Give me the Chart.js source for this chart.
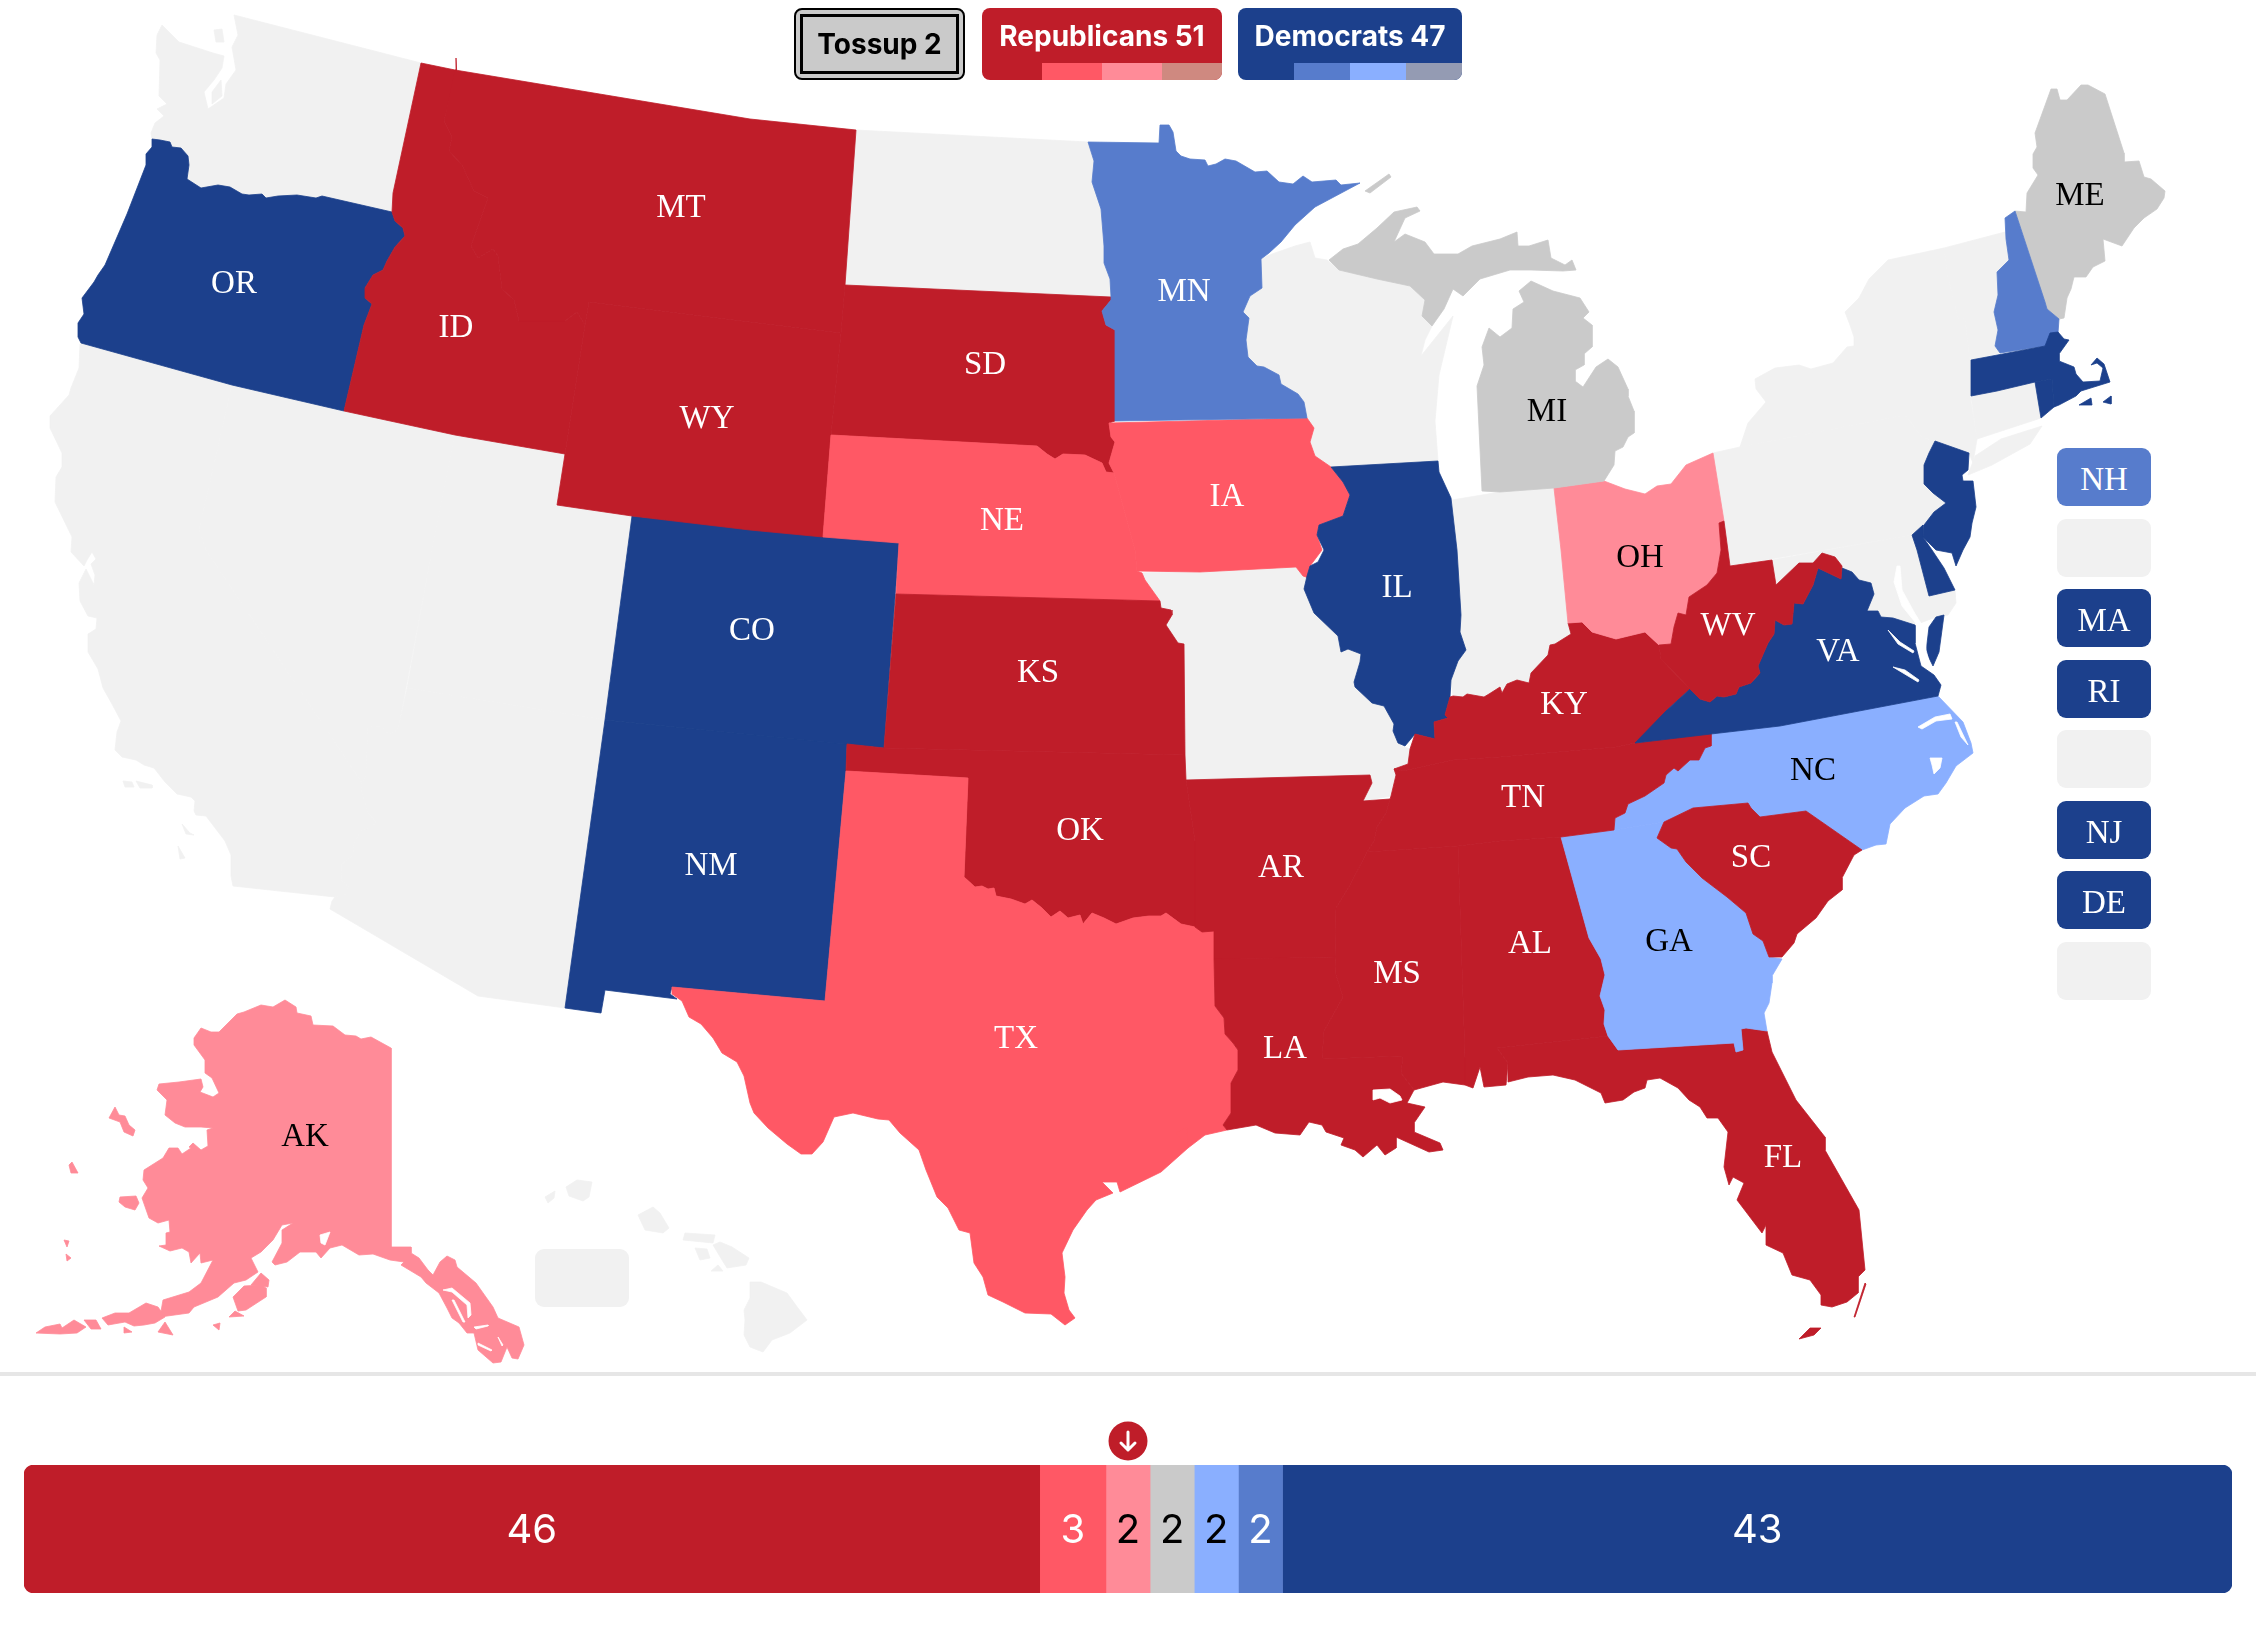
<!DOCTYPE html>
<html>
<head>
<meta charset="utf-8">
<script src="https://cdn.jsdelivr.net/npm/chart.js@4/dist/chart.umd.js"></script>
<style>
html, body { margin: 0; padding: 0; background: #fff; }
#page { position: relative; width: 2256px; height: 1638px; overflow: hidden; font-family: Inter, sans-serif; }
canvas { position: absolute; }
#map { left: 0; top: 0; }
#bar { left: 24px; top: 1417px; }
.rule { position: absolute; left: 0; top: 1372px; width: 2256px; height: 4px; background: #e6e6e6; }
.chip { position: absolute; width: 94px; height: 58px; border-radius: 9px; font: 33px/62px "Liberation Serif", serif; text-align: center; color: #fff; }
.head { position: absolute; top: 8px; height: 72px; border-radius: 8px; overflow: hidden; color: #fff; font-weight: 700; font-size: 28px; text-align: center; box-sizing: border-box; }
.head span { position: absolute; left: 0; right: 0; top: 10px; line-height: 36px; }
.strip { position: absolute; bottom: 0; height: 17px; }
#toss { left: 794px; width: 171px; background: #cacaca; color: #000; border: 2px solid #000; }
#toss i { position: absolute; inset: 4px; border: 3px solid #000; }
#toss span { top: 16px; }
</style>
</head>
<body>
<div id="page">
  <canvas id="map" width="2256" height="1638"></canvas>
  <div class="rule"></div>
  <canvas id="bar" width="2208" height="176"></canvas>
</div>
<script>
// ratings and their colours
const ratingNames = ['safeR', 'likelyR', 'leanR', 'tiltR', 'toss', 'tiltD', 'leanD', 'likelyD', 'safeD', 'none'];
const ratingColors = ['#bf1d29', '#ff5865', '#ff8b98', '#cf8980', '#cacaca', '#949bb3', '#8aafff', '#577ccc', '#1c408c', '#f1f1f1'];

const stateCodes = ['OR','MT','ID','WY','SD','MN','NE','IA','CO','NM','KS','OK','TX','AR','LA','MS','AL','FL','TN','KY','WV','SC','IL','MI','ME','NH','MA','RI','NJ','DE','VA','NC','GA','OH','AK'];
const stateRatings = ['safeD','safeR','safeR','safeR','safeR','likelyD','likelyR','likelyR','safeD','safeD','safeR','safeR','likelyR','safeR','safeR','safeR','safeR','safeR','safeR','safeR','safeR','safeR','safeD','toss','toss','likelyD','safeD','safeD','safeD','safeD','safeD','leanD','leanD','leanR','leanR'];
const labelX = [234,681,456,707,985,1184,1002,1227,752,711,1038,1080,1016,1281,1285,1397,1530,1783,1523,1564,1728,1751,1397,1547,2080,null,null,null,null,null,1838,1813,1669,1640,305];
const labelY = [284.5,208.5,328.5,419.5,365.5,292.5,521.5,497.5,631.5,866.5,673.5,831.5,1039.5,868.5,1049.5,974.5,944.5,1158.5,798.5,705.5,626.5,858.5,588.5,412.5,196.5,null,null,null,null,null,652.5,771.5,942.5,558.5,1137.5];
const darkLabels = ['MI','ME','NC','GA','OH','AK'];

// small states listed beside the map
const chipStates = ['NH','VT','MA','RI','CT','NJ','DE','MD'];
const hawaiiChip = 'HI';

// senate totals at the top
const headTotals = ['Tossup 2', 'Republicans 51', 'Democrats 47'];

// seats in the bottom bar
const seatCounts = [46, 3, 2, 2, 2, 2, 43];
const seatRatings = ['safeR', 'likelyR', 'leanR', 'toss', 'leanD', 'likelyD', 'safeD'];
const seatTextColors = ['#fff', '#fff', '#000', '#000', '#000', '#fff', '#fff'];
const majorityMark = 50;

// outlines (x, y pairs on the map scales)
const WA = [421,63,234,15,238,35,232,47,236,70,226,84,224,98,208,109,204,92,214,80,222,68,224,56,213,53,179,42,162,25,157,35,156,53,160,60,159,96,167,104,157,109,164,116,155,123,151,133,152,139,160,140,170,142,172,147,181,148,188,156,189,165,187,179,201,188,218,185,230,187,242,194,249,195,262,194,266,198,278,196,297,195,316,198,322,196,392,212,393,193];
const WA2 = [212,92,221,80,222,96,212,104];
const WA3 = [214,30,222,29,224,42,216,42];
const OR = [152,139,160,140,170,142,172,147,181,148,188,156,189,165,187,179,201,188,218,185,230,187,242,194,249,195,262,194,266,198,278,196,297,195,316,198,322,196,392,212,395,221,403,228,405,236,395,247,387,261,383,270,373,275,365,288,365,298,372,304,364,325,344,411,232,385,81,343,78,337,78,323,84,314,82,298,94,282,98,275,105,265,127,214,146,165,146,154,152,147];
const CA = [81,343,232,385,199,530,206,550,362,783,361,789,368,813,376,822,372,827,361,831,354,843,353,855,342,864,341,880,349,887,344,896,335,897,233,886,231,876,231,855,225,841,206,816,196,815,194,811,195,801,191,797,177,794,165,782,154,768,144,765,136,760,122,757,115,750,117,732,121,721,112,704,103,688,98,669,88,652,88,634,96,629,97,618,88,616,80,601,79,583,86,569,94,585,95,575,91,564,96,559,92,552,87,560,84,566,71,552,72,537,55,502,56,477,62,467,62,453,50,428,50,416,69,395,71,388,79,368,80,344];
const CA2 = [123,781,132,782,134,787,125,787];
const CA3 = [136,781,152,785,152,788,140,788];
const CA4 = [182,824,190,833,194,835,186,834];
const CA5 = [178,846,185,858,180,859];
const NV = [232,385,455,435,432,550,399,725,395,732,388,734,383,727,368,726,366,775,362,783,206,550,199,530];
const ID = [421,63,455,70,456,58,456.6,70,444,121,452,137,449,151,462,165,474,191,488,198,471,246,478,258,493,249,498,256,502,289,514,300,519,321,565,321,577,312,585,325,565,454,455,435,344,411,364,325,372,304,365,298,365,288,373,275,383,270,387,261,395,247,405,236,403,228,395,221,392,212,393,193];
const MT = [455,70,750,119,856,130,845,285,841,333,750,322,589,302,585,325,577,312,565,321,519,321,514,300,502,289,498,256,493,249,478,258,471,246,488,198,474,191,462,165,449,151,452,137,444,121];
const WY = [589,302,750,322,841,333,831,435,823,537,750,530,632,516,557,505,565,454,585,325];
const UT = [455,435,565,454,557,505,632,516,605,720,407,688,432,550];
const AZ = [407,688,605,720,565,1008,478,996,330,909,332,901,335,897,344,896,349,887,341,880,342,864,353,855,354,843,361,831,372,827,376,822,368,813,361,789,362,783,366,775,368,726,383,727,388,734,395,732,399,725];
const CO = [632,516,899,543,884,748,605,720];
const NM = [605,720,847,744,846,770,825,1001,672,987,670,994,677,999,605,990,601,1013,565,1008];
const ND = [856,130,1088,142,1094,161,1092,182,1101,209,1104,246,1104,263,1110,279,1111,297,845,285];
const SD = [845,285,1111,297,1111,300,1102,311,1106,325,1115,330,1115,421,1109,423,1111,437,1115,442,1109,463,1114,473,1106,472,1102,463,1085,455,1063,454,1055,459,1047,454,1037,446,831,435,841,333];
const NE = [831,435,1037,446,1047,454,1055,459,1063,454,1085,455,1102,463,1106,472,1114,473,1135,550,1137,571,1142,573,1145,580,1160,601,896,594,899,543,823,537];
const KS = [896,594,1160,601,1161,608,1171,610,1172,615,1166,625,1178,643,1184,644,1185,755,884,748];
const OK = [847,744,884,748,1185,755,1186,780,1195,841,1195,927,1202,932,1214,931,1202,932,1195,927,1181,924,1166,913,1161,916,1149,916,1133,918,1116,924,1104,918,1092,913,1083,924,1080,915,1068,918,1060,911,1051,917,1042,908,1032,900,1025,904,1011,899,996,896,994,888,988,889,982,886,975,887,964,877,968,778,846,771];
const TX = [846,771,968,778,964,877,975,887,982,886,988,889,994,888,996,896,1011,899,1025,904,1032,900,1042,908,1051,917,1060,911,1068,918,1080,915,1083,924,1092,913,1104,918,1116,924,1133,918,1149,916,1161,916,1166,913,1181,924,1195,927,1202,932,1214,931,1215,1006,1224,1018,1225,1034,1233,1043,1238,1050,1238,1070,1231,1083,1231,1113,1223,1125,1227,1130,1205,1135,1188,1148,1176,1133,1187,1127,1188,1148,1161,1172,1120,1192,1117,1182,1102,1182,1113,1193,1096,1200,1087,1210,1073,1230,1062,1253,1065,1277,1064,1293,1069,1310,1075,1318,1065,1325,1051,1314,1025,1313,1003,1302,988,1295,983,1277,974,1263,970,1233,959,1230,948,1208,937,1197,926,1170,919,1150,900,1133,889,1120,878,1119,853,1113,834,1117,823,1142,812,1154,801,1154,787,1144,768,1128,754,1113,750,1103,744,1076,737,1062,722,1053,713,1038,701,1024,689,1017,682,1001,672,994,672,987,825,1001];
const MN = [1088,142,1159,143,1160,125,1169,125,1173,132,1176,151,1181,156,1190,159,1205,160,1208,166,1216,164,1225,159,1236,161,1255,172,1267,171,1279,182,1293,184,1303,176,1312,182,1336,180,1341,185,1360,183,1315,207,1295,225,1281,242,1269,253,1261,259,1262,288,1250,296,1243,312,1249,318,1246,340,1248,357,1257,366,1264,367,1279,375,1281,384,1298,394,1304,402,1307,418,1115,421,1115,330,1106,325,1102,311,1111,300,1111,297,1110,279,1104,263,1104,246,1101,209,1092,182,1094,161];
const IA = [1109,423,1307,418,1314,428,1310,442,1315,456,1331,467,1343,482,1350,495,1343,516,1319,525,1317,535,1322,550,1310,566,1309,578,1303,576,1296,567,1200,572,1137,571,1135,550,1114,473,1109,463,1115,442,1111,437];
const MO = [1141,573,1296,567,1303,576,1309,578,1304,589,1314,613,1338,636,1341,652,1348,649,1361,654,1360,662,1354,682,1355,687,1372,703,1384,706,1394,724,1393,731,1401,746,1410,749,1408,764,1394,769,1396,775,1391,796,1363,801,1372,783,1370,775,1186,780,1184,644,1178,643,1166,625,1172,615,1171,610,1161,608,1160,601,1145,580];
const AR = [1186,780,1370,775,1372,783,1363,801,1390,799,1386,813,1377,827,1374,841,1367,852,1350,885,1336,908,1335,957,1238,959,1214,959,1214,931,1202,932,1195,927,1195,841];
const LA = [1214,959,1335,957,1336,975,1343,997,1324,1031,1322,1059,1403,1056,1401,1073,1414,1090,1407,1103,1425,1107,1414,1123,1414,1132,1440,1143,1443,1150,1429,1152,1407,1142,1396,1137,1396,1148,1385,1155,1377,1145,1363,1157,1355,1150,1341,1145,1344,1138,1326,1132,1322,1125,1309,1122,1300,1135,1275,1133,1256,1125,1227,1130,1223,1125,1231,1113,1231,1083,1238,1070,1238,1050,1233,1043,1225,1034,1224,1018,1215,1006];
const MS = [1367,852,1458,846,1465,1058,1465,1085,1443,1082,1414,1090,1401,1073,1403,1056,1322,1059,1324,1031,1343,997,1336,975,1335,957,1336,908,1350,885];
const AL = [1458,846,1500,841,1561,837,1589,938,1601,959,1605,975,1600,996,1605,1010,1604,1024,1608,1036,1497,1048,1508,1063,1506,1085,1484,1087,1480,1067,1473,1088,1465,1085,1465,1058];
const FL = [1618,1050,1734,1043,1736,1052,1743,1050,1741,1029,1746,1028,1767,1031,1772,1052,1796,1100,1825,1137,1825,1150,1859,1210,1865,1270,1858,1277,1858,1293,1847,1302,1832,1307,1821,1305,1821,1295,1810,1280,1792,1275,1783,1253,1766,1245,1766,1225,1762,1233,1737,1200,1744,1183,1733,1177,1729,1185,1724,1167,1728,1132,1718,1118,1707,1118,1700,1107,1689,1100,1678,1088,1660,1078,1647,1080,1645,1088,1634,1092,1623,1100,1605,1103,1601,1093,1575,1080,1553,1075,1528,1077,1508,1082,1508,1063,1497,1048,1608,1036];
const FL2 = [1799,1339,1810,1328,1821,1328,1814,1335];
const FL3 = [1865,1283,1866,1284,1855,1317,1854,1317];
const GA = [1561,837,1614,830,1664,822,1657,838,1671,848,1677,849,1686,862,1702,878,1727,897,1746,913,1753,934,1763,941,1769,957,1782,959,1772,976,1772,983,1769,1003,1764,1013,1767,1031,1746,1028,1741,1029,1743,1050,1736,1052,1734,1043,1618,1050,1608,1036,1604,1024,1605,1010,1600,996,1605,975,1601,959,1589,938];
const SC = [1664,822,1693,808,1748,803,1751,808,1760,817,1806,811,1862,850,1854,855,1842,878,1842,890,1828,901,1816,918,1797,934,1794,943,1782,957,1769,957,1763,941,1753,934,1746,913,1727,897,1702,878,1686,862,1677,849,1671,848,1657,838];
const NC = [1711,734,1780,726,1938,696,1963,722,1971,743,1973,753,1956,766,1946,783,1938,794,1924,796,1905,808,1890,824,1886,844,1876,845,1862,850,1806,811,1760,817,1751,808,1748,803,1693,808,1664,822,1614,830,1615,818,1625,813,1628,804,1645,796,1664,783,1666,775,1674,768,1678,771,1690,760,1699,760,1705,748,1711,746];
const TN = [1500,757,1616,747,1635,743,1711,733,1711,746,1705,748,1699,760,1690,760,1678,771,1674,768,1666,775,1664,783,1645,796,1628,804,1625,813,1615,818,1614,830,1561,837,1500,841,1458,846,1367,852,1374,841,1377,827,1386,813,1390,799,1391,796,1396,775,1394,769,1403,771,1453,760];
const KY = [1410,749,1415,734,1435,739,1434,722,1448,718,1445,715,1450,697,1453,696,1463,697,1467,694,1484,697,1489,694,1500,687,1502,693,1507,684,1517,680,1529,683,1531,673,1548,655,1550,645,1555,644,1571,634,1568,623,1582,622,1592,632,1616,639,1645,632,1659,645,1661,659,1690,689,1666,711,1659,729,1635,743,1616,747,1500,757,1453,760,1403,771,1394,769,1408,764];
const WV = [1659,645,1671,644,1674,627,1678,613,1686,615,1689,597,1707,585,1717,573,1721,550,1719,523,1724,521,1730,566,1772,560,1776,585,1799,563,1813,563,1822,553,1835,557,1842,566,1841,579,1818,568,1813,585,1803,604,1794,603,1792,624,1784,625,1775,620,1774,634,1768,643,1758,666,1760,673,1751,683,1739,687,1736,694,1724,697,1717,696,1710,702,1700,699,1690,689,1661,659];
const VA = [1635,743,1666,711,1690,689,1700,699,1710,702,1717,696,1724,697,1736,694,1739,687,1751,683,1760,673,1758,666,1768,643,1774,634,1775,620,1784,625,1792,624,1794,603,1803,604,1813,585,1818,568,1841,579,1842,568,1852,572,1859,580,1871,583,1874,594,1867,611,1878,611,1881,617,1893,618,1915,625,1915,643,1921,666,1934,675,1941,685,1938,696,1780,726,1711,734];
const VA2 = [1936,617,1944,615,1939,652,1933,666,1926,652,1929,627];
const MD = [1772,560,1912,535,1917,550,1929,596,1955,590,1956,603,1948,615,1936,617,1915,625,1893,618,1881,617,1878,611,1867,611,1874,594,1871,583,1859,580,1852,572,1842,568,1835,557,1822,553,1813,563,1799,563,1776,585];
const DE = [1912,535,1923,525,1923,537,1932,550,1944,568,1955,590,1929,596,1917,550];
const NJ = [1935,441,1969,453,1968,470,1962,475,1963,481,1973,481,1976,507,1972,523,1970,537,1963,550,1956,566,1952,553,1936,550,1923,537,1924,525,1934,512,1946,503,1933,493,1924,484,1924,465,1929,453];
const PA = [1713,453,1740,447,1905,415,1922,437,1934,441,1929,453,1924,465,1924,484,1946,503,1932,519,1912,535,1730,566,1724,521];
const OH = [1604,481,1625,489,1645,494,1657,486,1671,484,1686,465,1713,453,1724,521,1719,523,1721,550,1717,573,1707,585,1689,597,1686,615,1678,613,1674,627,1671,644,1659,645,1645,632,1616,639,1592,632,1582,622,1568,623,1561,550,1554,488];
const IN = [1452,500,1500,492,1554,488,1561,550,1568,623,1571,634,1555,644,1550,645,1548,655,1531,673,1529,683,1517,680,1507,684,1502,693,1500,687,1489,694,1484,697,1467,694,1463,697,1453,696,1451,680,1458,661,1466,650,1460,632,1461,615,1457,550];
const IL = [1331,467,1438,461,1439,472,1451,498,1457,550,1461,615,1460,632,1466,650,1458,661,1451,680,1450,697,1445,715,1448,718,1434,722,1435,739,1415,734,1405,746,1398,743,1393,731,1394,724,1384,706,1372,703,1355,687,1354,682,1360,662,1361,654,1348,649,1341,652,1338,636,1314,613,1304,589,1307,576,1310,566,1318,562,1324,550,1317,535,1319,525,1343,516,1350,495,1343,482];
const WI = [1261,259,1272,254,1295,246,1310,242,1315,258,1327,260,1339,270,1377,279,1410,286,1425,300,1422,316,1432,326,1425,340,1421,356,1453,316,1439,375,1435,421,1438,461,1331,467,1315,456,1310,442,1314,428,1307,418,1304,402,1298,394,1281,384,1279,375,1264,367,1257,366,1248,357,1246,340,1249,318,1243,312,1250,296,1262,288];
const MI = [1531,281,1553,291,1580,298,1589,312,1583,318,1592,325,1592,347,1584,354,1584,365,1575,370,1575,381,1583,387,1596,367,1608,359,1618,367,1628,389,1628,396,1634,411,1634,433,1628,437,1623,447,1615,451,1614,465,1604,481,1554,488,1500,492,1482,491,1480,449,1477,386,1484,365,1482,347,1489,328,1500,337,1512,328,1513,309,1524,302,1519,291];
const MI2 = [1329,260,1343,249,1358,244,1377,228,1394,212,1417,207,1420,211,1405,218,1394,242,1405,234,1425,242,1434,254,1458,254,1472,246,1500,239,1517,232,1518,246,1529,246,1548,240,1551,258,1565,265,1572,260,1576,270,1563,271,1531,270,1510,270,1480,279,1463,296,1453,289,1444,309,1432,326,1422,316,1425,300,1410,286,1377,279,1339,270];
const MI3 = [1365,191,1389,174,1391,177,1370,193];
const NY = [1740,447,1748,423,1766,402,1756,389,1755,379,1775,368,1799,365,1811,369,1833,363,1847,347,1854,346,1854,337,1850,325,1845,312,1859,298,1869,279,1888,260,1944,248,1948,277,1958,318,1965,319,1970,360,1970,396,1977,439,1973,463,1969,453,1935,441,1922,437,1905,415];
const NY2 = [1975,456,2001,439,2042,426,2030,444,1992,465,1968,475];
const VT = [1944,248,2005,232,2006,239,2009,260,1997,272,1998,295,1994,312,1998,330,1995,346,2000,353,1970,360,1965,319,1958,318,1948,277];
const NH = [2005,218,2015,211,2045,302,2047,309,2059,319,2058,333,2045,346,2000,353,1995,346,1998,330,1994,312,1998,295,1997,272,2009,260,2006,239];
const ME = [2015,211,2026,212,2027,193,2038,175,2033,168,2033,154,2037,147,2035,133,2051,89,2057,89,2060,100,2067,100,2081,85,2088,85,2105,94,2124,153,2124,162,2139,161,2144,177,2151,179,2165,191,2164,198,2157,209,2144,218,2134,228,2122,246,2103,239,2105,261,2093,267,2086,277,2074,277,2071,289,2067,298,2064,318,2059,319,2047,309,2045,302];
const MA = [2045,346,2050,333,2058,332,2064,339,2069,340,2059,354,2059,361,2074,367,2076,374,2083,382,2100,381,2103,368,2097,363,2091,365,2097,358,2104,364,2110,382,2081,391,2076,396,2059,405,2054,407,2052,379,2035,382,1997,391,1971,396,1971,360];
const MA2 = [2103,402,2111,396,2111,404];
const MA3 = [2079,405,2091,398,2092,405];
const RI = [2035,382,2052,379,2054,407,2041,418];
const CT = [1971,396,1997,391,2035,382,2041,418,1977,439];
const AK = [201,1028,211,1032,219,1032,237,1014,244,1012,261,1005,273,1007,285,1000,296,1007,297,1013,311,1016,313,1025,333,1026,345,1035,356,1036,361,1039,371,1037,391,1048,391,1247,411,1247,411,1253,419,1258,428,1270,433,1275,440,1262,447,1256,455,1260,457,1267,476,1283,493,1307,498,1318,519,1327,524,1345,518,1359,512,1358,507,1347,501,1362,493,1363,478,1350,474,1333,467,1333,459,1323,452,1318,447,1308,439,1293,426,1283,421,1277,401,1265,404,1262,390,1260,373,1254,359,1255,342,1245,330,1248,321,1258,316,1252,300,1252,287,1262,275,1265,272,1262,282,1243,282,1230,293,1223,282,1225,273,1240,261,1252,251,1258,258,1272,246,1280,234,1283,218,1297,194,1307,189,1313,160,1317,163,1300,189,1292,201,1283,213,1260,201,1263,200,1253,191,1263,189,1252,182,1248,170,1251,159,1246,166,1245,166,1233,170,1232,169,1220,158,1223,149,1218,142,1198,148,1188,143,1180,144,1170,163,1158,169,1148,178,1148,182,1154,191,1148,189,1147,193,1143,201,1150,208,1146,207,1130,213,1128,201,1127,185,1127,175,1123,165,1115,167,1100,157,1090,159,1084,179,1082,201,1079,203,1087,200,1092,213,1097,219,1093,212,1078,205,1073,205,1060,194,1045,194,1038];
const AK2 = [115,1107,119,1115,125,1116,129,1125,135,1130,133,1136,124,1132,120,1122,109,1118];
const AK3 = [120,1197,136,1196,139,1203,135,1210,125,1207,119,1202];
const AK4 = [72,1162,78,1173,71,1173,69,1165];
const AK5 = [64,1240,69,1241,67,1247];
const AK6 = [66,1254,71,1258,67,1261];
const AK7 = [233,1297,244,1286,261,1285,266,1288,266,1297,246,1310,238,1311];
const AK8 = [251,1285,261,1273,269,1280,268,1287];
const AK9 = [102,1318,115,1313,129,1313,146,1303,158,1307,165,1317,155,1323,144,1325,134,1326,125,1322,108,1325];
const AK10 = [36,1333,45,1327,60,1324,62,1328,74,1320,86,1327,77,1333,60,1334];
const AK11 = [84,1320,96,1320,101,1329,91,1329];
const AK12 = [158,1332,165,1322,173,1335];
const AK13 = [213,1325,220,1323,219,1330];
const AK14 = [124,1327,132,1332,124,1333];
const AK15 = [229,1317,235,1311,244,1316];
const HI = [566,1187,577,1180,592,1182,589,1197,583,1201,569,1196];
const HI2 = [545,1197,555,1191,554,1198,548,1203];
const HI3 = [638,1215,653,1207,660,1213,669,1228,663,1233,645,1230];
const HI4 = [685,1233,715,1235,713,1243,683,1240];
const HI5 = [695,1248,707,1249,710,1258,700,1260];
const HI6 = [713,1245,720,1242,732,1247,749,1258,746,1265,727,1268,722,1260];
const HI7 = [711,1271,718,1265,723,1271];
const HI8 = [750,1282,761,1282,787,1293,798,1308,807,1320,790,1333,772,1340,763,1352,750,1347,744,1335,745,1320,744,1310,750,1298];

// water cut into the coast, drawn on top of the states
const lakePontchartrain = [1373,1090,1390,1089,1400,1096,1402,1100,1390,1103,1380,1098,1373,1100];
const chesapeake = [1897,566,1894,582,1902,606,1915,622,1921,638,1923,655,1930,670,1931,668,1926,650,1925,630,1914,612,1902,590,1900,566];
const yorkRiver = [1888,630,1900,642,1914,651,1913,653,1898,644];
const jamesRiver = [1893,667,1905,670,1919,680,1918,682,1903,673];
const albemarle = [1918,727,1935,717,1950,714,1952,719,1936,721,1922,729];
const pamlico = [1930,758,1942,758,1940,768,1934,774,1932,765];
const outerBanks = [1955,722,1957,722,1968,745,1961,737];
const lagunaMadre = [1103,1200,1094,1204,1085,1222,1074,1240,1067,1255,1068,1256,1076,1240,1087,1222,1096,1206];
const iliamna = [320,1235,330,1232,325,1245,321,1243];
const akSlit1 = [443,1290,452,1288,470,1303,471,1315,468,1318,467,1305,452,1292];
const akSlit2 = [452,1300,454,1300,465,1322,463,1322];
const akSlit3 = [474,1327,488,1325,488,1326,476,1329];
const akSlit4 = [478,1343,492,1350,491,1351,478,1345];
const akSlit5 = [498,1337,503,1345,502,1346];
const waterShapes = [lakePontchartrain, chesapeake, yorkRiver, jamesRiver, albemarle, pamlico, outerBanks, lagunaMadre, iliamna, akSlit1, akSlit2, akSlit3, akSlit4, akSlit5];

// later entries sit on top
const stateShapes = [
  ['WA',WA],['WA',WA2],['WA',WA3],['CA',CA],['CA',CA2],['CA',CA3],['CA',CA4],['CA',CA5],['NV',NV],['UT',UT],['AZ',AZ],['ND',ND],['WI',WI],['MO',MO],['IN',IN],
  ['NM',NM],['CO',CO],['OR',OR],['ID',ID],['MT',MT],['WY',WY],['SD',SD],['NE',NE],['KS',KS],['OK',OK],['TX',TX],['IA',IA],['MN',MN],['IL',IL],
  ['AR',AR],['LA',LA],['MS',MS],['AL',AL],['FL',FL],['FL',FL2],['FL',FL3],['GA',GA],['NC',NC],['SC',SC],['TN',TN],['KY',KY],
  ['PA',PA],['NY',NY],['NY',NY2],['VT',VT],['CT',CT],['MD',MD],['OH',OH],['VA',VA],['VA',VA2],['WV',WV],['DE',DE],['NJ',NJ],
  ['MI',MI],['MI',MI2],['MI',MI3],['ME',ME],['NH',NH],['MA',MA],['MA',MA2],['MA',MA3],['RI',RI],
  ['AK',AK],['AK',AK2],['AK',AK3],['AK',AK4],['AK',AK5],['AK',AK6],['AK',AK7],['AK',AK8],['AK',AK9],['AK',AK10],['AK',AK11],['AK',AK12],['AK',AK13],['AK',AK14],['AK',AK15],
  ['HI',HI],['HI',HI2],['HI',HI3],['HI',HI4],['HI',HI5],['HI',HI6],['HI',HI7],['HI',HI8]
];

function colorOfRating(name) {
  return ratingColors[ratingNames.indexOf(name)];
}

function colorOfState(code) {
  const i = stateCodes.indexOf(code);
  return colorOfRating(i < 0 ? 'none' : stateRatings[i]);
}

function ringPoints(flat) {
  const pts = [];
  for (let i = 0; i < flat.length; i += 2) {
    pts.push({x: flat[i], y: flat[i + 1]});
  }
  pts.push({x: flat[0], y: flat[1]});
  return pts;
}

function ringDataset(label, flat, color) {
  return {
    label: label,
    data: ringPoints(flat),
    showLine: true,
    fill: 'shape',
    tension: 0,
    pointRadius: 0,
    borderWidth: 0.8,
    borderColor: color,
    backgroundColor: color
  };
}

// first dataset is painted last
const mapDatasets = waterShapes.map(w => ringDataset('water', w, '#ffffff'))
  .concat(stateShapes.slice().reverse().map(s => ringDataset(s[0], s[1], colorOfState(s[0]))));

const stateLabels = {
  id: 'stateLabels',
  afterDatasetsDraw(chart) {
    const ctx = chart.ctx;
    ctx.save();
    ctx.font = '33px "Liberation Serif", serif';
    ctx.textAlign = 'center';
    ctx.textBaseline = 'middle';
    stateCodes.forEach((code, i) => {
      if (labelX[i] === null) return;
      ctx.fillStyle = darkLabels.includes(code) ? '#000' : '#fff';
      ctx.fillText(code, chart.scales.x.getPixelForValue(labelX[i]), chart.scales.y.getPixelForValue(labelY[i]));
    });
    ctx.restore();
  }
};

new Chart(document.getElementById('map').getContext('2d'), {
  type: 'scatter',
  data: {datasets: mapDatasets},
  plugins: [stateLabels],
  options: {
    responsive: false,
    devicePixelRatio: 1,
    animation: false,
    events: [],
    layout: {padding: 0},
    plugins: {legend: {display: false}, tooltip: {enabled: false}},
    scales: {
      x: {type: 'linear', display: false, min: 0, max: 2256},
      y: {type: 'linear', display: false, min: 0, max: 1638, reverse: true}
    }
  }
});

const seatLabels = {
  id: 'seatLabels',
  afterDatasetsDraw(chart) {
    const ctx = chart.ctx;
    ctx.save();
    ctx.font = '40px Inter, sans-serif';
    ctx.textAlign = 'center';
    ctx.textBaseline = 'middle';
    chart.data.datasets.forEach((ds, i) => {
      const el = chart.getDatasetMeta(i).data[0];
      ctx.fillStyle = seatTextColors[i];
      ctx.fillText(String(ds.data[0]), (el.x + el.base) / 2, el.y + 2);
    });
    // majority arrow above the bar
    const mx = chart.scales.x.getPixelForValue(majorityMark);
    ctx.fillStyle = colorOfRating('safeR');
    ctx.beginPath();
    ctx.arc(mx, 24, 19.5, 0, Math.PI * 2);
    ctx.fill();
    ctx.strokeStyle = '#fff';
    ctx.lineWidth = 3;
    ctx.lineCap = 'round';
    ctx.lineJoin = 'round';
    ctx.beginPath();
    ctx.moveTo(mx, 15);
    ctx.lineTo(mx, 33);
    ctx.moveTo(mx - 7, 26);
    ctx.lineTo(mx, 33);
    ctx.lineTo(mx + 7, 26);
    ctx.stroke();
    ctx.restore();
  }
};

new Chart(document.getElementById('bar').getContext('2d'), {
  type: 'bar',
  data: {
    labels: ['Senate'],
    datasets: seatCounts.map((n, i) => ({
      label: seatRatings[i],
      data: [n],
      backgroundColor: colorOfRating(seatRatings[i]),
      borderWidth: 0,
      borderSkipped: false,
      borderRadius: i === 0 ? {topLeft: 10, bottomLeft: 10} : (i === seatCounts.length - 1 ? {topRight: 10, bottomRight: 10} : 0),
      barPercentage: 1,
      categoryPercentage: 1
    }))
  },
  plugins: [seatLabels],
  options: {
    indexAxis: 'y',
    responsive: false,
    devicePixelRatio: 1,
    animation: false,
    events: [],
    layout: {padding: {top: 48}},
    plugins: {legend: {display: false}, tooltip: {enabled: false}},
    scales: {
      x: {stacked: true, display: false, min: 0, max: 100},
      y: {stacked: true, display: false}
    }
  }
});

// page furniture: the header boxes and the small state chips
const page = document.getElementById('page');

function addChip(code, left, top, text) {
  const d = document.createElement('div');
  d.className = 'chip';
  d.style.left = left + 'px';
  d.style.top = top + 'px';
  d.style.background = colorOfState(code);
  d.textContent = text;
  page.appendChild(d);
}

chipStates.forEach((code, i) => {
  const shown = stateCodes.includes(code);
  addChip(code, 2057, 448 + i * 70.5, shown ? code : '');
});
addChip(hawaiiChip, 535, 1249, '');

function addHead(text, id, left, width, color, strips) {
  const d = document.createElement('div');
  d.className = 'head';
  if (id) d.id = id;
  d.style.left = left + 'px';
  d.style.width = width + 'px';
  if (color) d.style.background = color;
  if (id) d.appendChild(document.createElement('i'));
  const s = document.createElement('span');
  s.textContent = text;
  d.appendChild(s);
  strips.forEach((name, i) => {
    const b = document.createElement('div');
    b.className = 'strip';
    b.style.left = (i + 1) * width / (strips.length + 1) + 'px';
    b.style.width = width / (strips.length + 1) + 'px';
    b.style.background = colorOfRating(name);
    d.appendChild(b);
  });
  page.appendChild(d);
}

addHead(headTotals[0], 'toss', 794, 171, null, []);
addHead(headTotals[1], '', 982, 240, colorOfRating('safeR'), ['likelyR', 'leanR', 'tiltR']);
addHead(headTotals[2], '', 1238, 224, colorOfRating('safeD'), ['likelyD', 'leanD', 'tiltD']);
</script>
</body>
</html>
